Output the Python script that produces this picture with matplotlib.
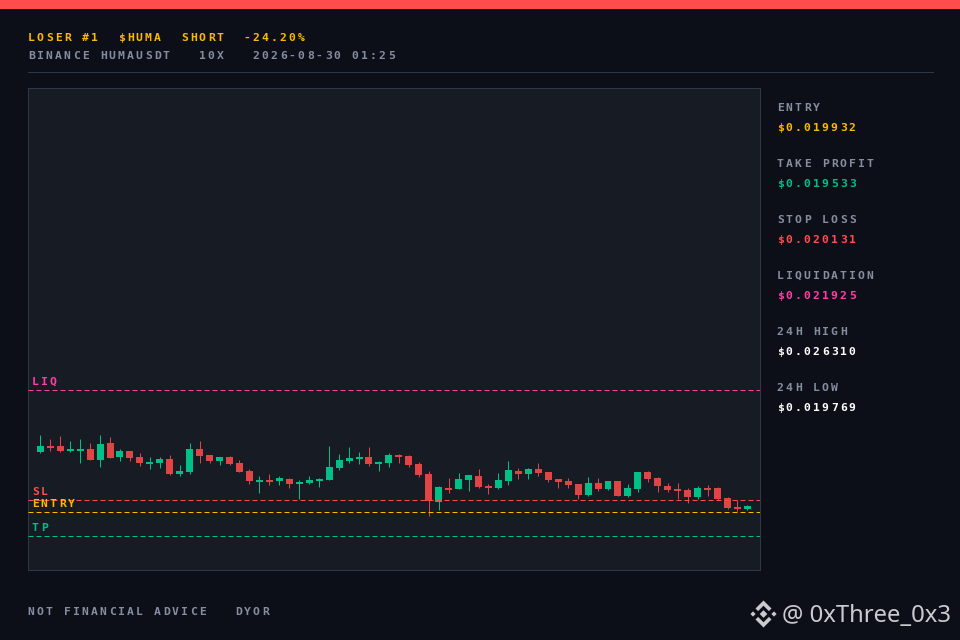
import matplotlib
matplotlib.use("Agg")
import matplotlib.pyplot as plt
from matplotlib.patches import Polygon, Rectangle
from matplotlib.text import Text

# prices in millionths of a dollar
opens = [20923, 21021, 21021, 20939, 20939, 20972, 20792, 21070, 20841, 20939, 20841, 20726,
         20743, 20808, 20563, 20595, 20972, 20874, 20776, 20841, 20743, 20612, 20432, 20464,
         20448, 20481, 20399, 20415, 20448, 20464, 20661, 20776, 20808, 20841, 20726, 20743,
         20874, 20857, 20726, 20563, 20104, 20333, 20317, 20464, 20530, 20366, 20333, 20448,
         20612, 20563, 20645, 20595, 20481, 20448, 20399, 20219, 20415, 20317, 20448, 20202,
         20317, 20595, 20497, 20366, 20317, 20301, 20186, 20333, 20333, 20170, 20022, 19989]
highs = [21201, 21136, 21185, 21103, 21136, 21070, 21201, 21169, 20972, 20939, 20907, 20841,
         20841, 20874, 20710, 21070, 21103, 20874, 20841, 20857, 20792, 20645, 20530, 20563,
         20530, 20497, 20464, 20530, 20497, 21021, 20890, 21005, 20923, 21005, 20776, 20907,
         20890, 20874, 20759, 20612, 20366, 20497, 20579, 20546, 20645, 20399, 20579, 20776,
         20661, 20661, 20743, 20595, 20481, 20497, 20399, 20514, 20497, 20448, 20448, 20399,
         20595, 20612, 20514, 20415, 20415, 20333, 20366, 20382, 20350, 20186, 20137, 20055]
lows = [20907, 20939, 20923, 20923, 20743, 20792, 20677, 20825, 20776, 20776, 20694, 20645,
        20661, 20546, 20530, 20563, 20743, 20743, 20710, 20710, 20595, 20399, 20251, 20382,
        20382, 20333, 20153, 20399, 20350, 20464, 20628, 20743, 20726, 20694, 20612, 20677,
        20743, 20677, 20514, 19875, 19973, 20251, 20317, 20284, 20333, 20235, 20317, 20382,
        20481, 20481, 20530, 20432, 20333, 20333, 20153, 20202, 20284, 20301, 20202, 20186,
        20268, 20432, 20268, 20268, 20153, 20088, 20153, 20202, 20137, 19989, 19957, 19973]
closes = [21021, 20989, 20939, 20972, 20972, 20792, 21054, 20825, 20939, 20825, 20743, 20759,
          20808, 20563, 20612, 20972, 20857, 20776, 20841, 20726, 20595, 20448, 20464, 20432,
          20497, 20399, 20432, 20464, 20481, 20677, 20792, 20825, 20841, 20726, 20759, 20874,
          20841, 20710, 20546, 20120, 20350, 20301, 20481, 20546, 20350, 20333, 20464, 20628,
          20563, 20645, 20579, 20464, 20432, 20382, 20219, 20415, 20317, 20448, 20202, 20333,
          20595, 20481, 20366, 20301, 20284, 20186, 20333, 20301, 20153, 20006, 19989, 20039]

entry = 19932
take_profit = 19533
stop_loss = 20131
liquidation = 21925

level_names = ["LIQ", "SL", "ENTRY", "TP"]
level_values = [liquidation, stop_loss, entry, take_profit]

side_labels = ["ENTRY", "TAKE PROFIT", "STOP LOSS", "LIQUIDATION", "24H HIGH", "24H LOW"]
side_values = ["$0.019932", "$0.019533", "$0.020131", "$0.021925", "$0.026310", "$0.019769"]

BG = "#0c0f17"
PANEL = "#161b24"
EDGE = "#2d3748"
GRAY = "#868da0"
AMBER = "#ffb800"
GREEN = "#00c087"
RED = "#ff4d4d"
PINK = "#ff3ea5"
WHITE = "#ffffff"

level_colors = [PINK, RED, AMBER, GREEN]
side_colors = [AMBER, GREEN, RED, PINK, WHITE, WHITE]


class TrackedText(Text):
    # Text with fixed letter spacing, the reference uses a wide pixel font
    advance = 9

    def draw(self, renderer):
        x, y = self.get_position()
        for i, ch in enumerate(self.get_text()):
            if ch == " ":
                continue
            t = Text(x + 3.2 + i * self.advance, y, ch, color=self.get_color(),
                     fontproperties=self.get_fontproperties(), transform=self.get_transform(),
                     ha="center", va="baseline")
            t.set_figure(self.get_figure())
            t.draw(renderer)


fig = plt.figure(figsize=(9.6, 6.4), dpi=100, facecolor=BG)

# overlay in pixel coordinates for the header, sidebar and footer
page = fig.add_axes([0, 0, 1, 1], zorder=3)
page.set_xlim(0, 960)
page.set_ylim(640, 0)
page.axis("off")

ax = fig.add_axes([28 / 960, 70 / 640, 732 / 960, 482 / 640], zorder=1)
ax.set_facecolor(PANEL)
for s in ax.spines.values():
    s.set_color(EDGE)
    s.set_linewidth(0.72)
ax.set_xticks([])
ax.set_yticks([])
ax.set_xlim(-1.235, 72.26)
ax.set_ylim(18983, 26878)

for i in range(len(opens)):
    up = closes[i] >= opens[i]
    color = GREEN if up else "#e04444"
    ax.vlines(i, lows[i], highs[i], color=color, linewidth=0.72, zorder=2)
    ax.bar(i, abs(closes[i] - opens[i]), bottom=min(opens[i], closes[i]), width=0.7,
           color=color, linewidth=0, zorder=3)

for name, value, color in zip(level_names, level_values, level_colors):
    ax.axhline(value, color=color, linewidth=0.72, dashes=(5, 3), zorder=4)


def label(x, y, text, color):
    t = TrackedText(x, y, text, color=color, fontsize=8.2, family="DejaVu Sans Mono",
                    fontweight="bold", va="baseline", ha="left")
    page.add_artist(t)


# top bar and header
page.add_patch(Rectangle((0, 0), 960, 9, color=RED, linewidth=0))
label(28, 41, "LOSER #1  $HUMA  SHORT  -24.20%", AMBER)
label(28, 59, "BINANCE HUMAUSDT   10X   2026-08-30 01:25", GRAY)
page.plot([28, 933], [71.5, 71.5], color=EDGE, linewidth=0.72)

# level tags
tag_y = [385, 495, 507, 531]
for name, y, color in zip(level_names, tag_y, level_colors):
    label(32, y, name, color)

# sidebar
for i in range(len(side_labels)):
    label(777, 111 + 56 * i, side_labels[i], GRAY)
    label(777, 131 + 56 * i, side_values[i], side_colors[i])

# footer
label(28, 615, "NOT FINANCIAL ADVICE   DYOR", GRAY)

# watermark
mark = "#c9cbcf"
cx, cy = 763.5, 614
shapes = [
    [(0, -3.8), (3.8, 0), (0, 3.8), (-3.8, 0)],
    [(-10.5, -2.6), (-7.9, 0), (-10.5, 2.6), (-13.1, 0)],
    [(10.5, -2.6), (13.1, 0), (10.5, 2.6), (7.9, 0)],
    [(0, -13.5), (8, -5.5), (5.4, -2.9), (0, -8.3), (-5.4, -2.9), (-8, -5.5)],
    [(0, 13.5), (8, 5.5), (5.4, 2.9), (0, 8.3), (-5.4, 2.9), (-8, 5.5)],
]
for pts in shapes:
    page.add_patch(Polygon([(cx + a, cy + b) for a, b in pts], closed=True, color=mark, linewidth=0))
page.text(782, 615.5, "@ 0xThree_0x3", color=mark, fontsize=17.2, family="Noto Sans", va="center", ha="left")

fig.savefig("out.png", dpi=100, facecolor=BG)
